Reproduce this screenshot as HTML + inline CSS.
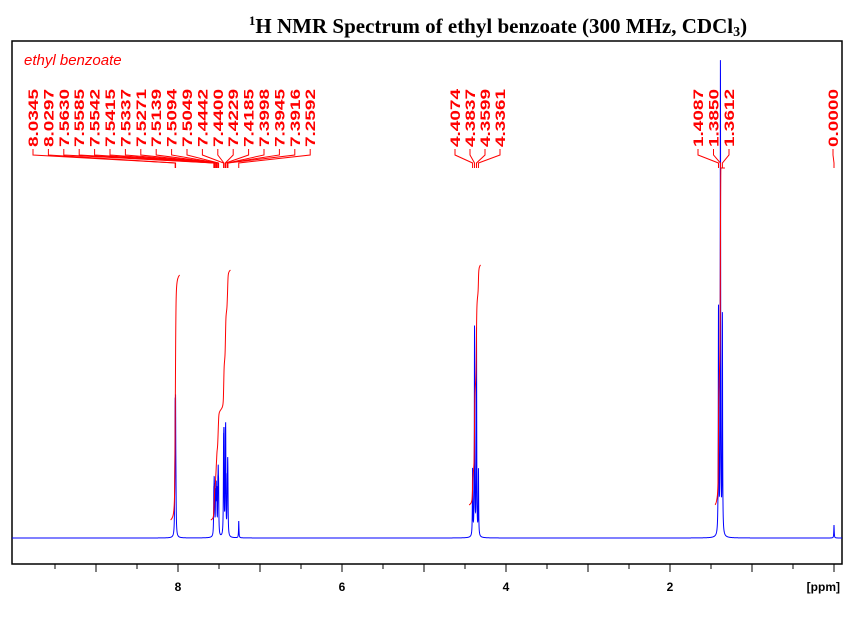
<!DOCTYPE html>
<html><head><meta charset="utf-8">
<style>
html,body{margin:0;padding:0;background:#fff;width:856px;height:620px;overflow:hidden}
svg{display:block}
</style></head>
<body>
<svg id="chart" width="856" height="620" xmlns="http://www.w3.org/2000/svg">
<text x="498" y="33" text-anchor="middle" font-family="Liberation Serif, serif" font-weight="bold" font-size="21" fill="#000"><tspan font-size="13" dy="-8">1</tspan><tspan dy="8">H NMR Spectrum of ethyl benzoate (300 MHz, CDCl</tspan><tspan font-size="14" dy="3">3</tspan><tspan dy="-3">)</tspan></text>
<rect x="12" y="41" width="830" height="523" fill="none" stroke="#000" stroke-width="1.5"/>
<text x="24" y="65" font-family="Liberation Sans, sans-serif" font-style="italic" font-size="15" fill="#f00">ethyl benzoate</text>
<defs><clipPath id="clip"><rect x="12" y="42" width="830" height="522"/></clipPath></defs>
<g id="axis"></g>
<g id="spec" clip-path="url(#clip)"></g>
<g id="integ"></g>
<g id="labels"></g>
</svg>
<script>
// ---- data ----
const peakPpm = [8.0393,8.0345,8.0297,8.0249,7.5630,7.5585,7.5542,7.5415,7.5337,7.5271,7.5139,7.5094,7.5049,7.4442,7.4400,7.4229,7.4185,7.3998,7.3945,7.3916,7.2592,4.4074,4.3837,4.3599,4.3361,1.4087,1.3850,1.3612,0.0000];
const peakHeight = [6,21,22,6,7,8,7,8,9,8,8,10,8,15,17,16,18,9,10,8,3.5,14,44,44,14,48,100,46,2.7];
const peakLabels = ["8.0345","8.0297","7.5630","7.5585","7.5542","7.5415","7.5337","7.5271","7.5139","7.5094","7.5049","7.4442","7.4400","7.4229","7.4185","7.3998","7.3945","7.3916","7.2592","4.4074","4.3837","4.3599","4.3361","1.4087","1.3850","1.3612","0.0000"];
const labelGroups = [[0,19],[19,23],[23,26],[26,27]];
const integralRegions = [[8.09,7.98],[7.60,7.36],[4.45,4.31],[1.45,1.33]];
const integralRise = [1.0,1.02,0.98,2.0];
const tickValues = [8,6,4,2];
// ---- scales ----
const X = p => 834 - 82*p;
const BASE = 538, YS = 4.73;
const Y = v => BASE - v*YS;
const ns = "http://www.w3.org/2000/svg";
function mk(tag, attrs, parent){const e=document.createElementNS(ns,tag);for(const k in attrs)e.setAttribute(k,attrs[k]);parent.appendChild(e);return e;}
// axis
const ax = document.getElementById('axis');
for(let t=0;t<=9.5;t+=0.5){
  const major = Math.abs(t-Math.round(t))<1e-6;
  const l = mk('line',{x1:X(t),x2:X(t),y1:564,y2:major?572:569,stroke:'#000','stroke-width':1},ax);
  
  
}
tickValues.forEach(v=>{
  const t = mk('text',{x:X(v),y:591,'text-anchor':'middle','font-family':'Liberation Sans, sans-serif','font-weight':'bold','font-size':'12',fill:'#000'},ax);
  t.textContent = v;
  
  
});
const unit = mk('text',{x:840,y:591,'text-anchor':'end','font-family':'Liberation Sans, sans-serif','font-weight':'bold','font-size':'12',fill:'#000'},ax);
unit.textContent='[ppm]';


// spectrum
const hw = 0.003;
function spec(p){let s=0;for(let i=0;i<peakPpm.length;i++){const d=(p-peakPpm[i])/hw;s+=peakHeight[i]/(1+d*d);}return s;}
let d='';
for(let p=10.05;p>=-0.1;p-=0.0008){const v=Math.min(spec(p),102);d+=(d?'L':'M')+X(p).toFixed(2)+','+Y(v).toFixed(2);}
const sp = mk('path',{d:d,fill:'none',stroke:'#00f','stroke-width':1},document.getElementById('spec'));


// integrals
const ig = document.getElementById('integ');
integralRegions.forEach((r,k)=>{
  const pts=[];let c=0;
  for(let p=r[0];p>=r[1];p-=0.0008){c+=spec(p);pts.push([p,c]);}
  const tot=c, start = k<2?520:505;
  let dd='';
  pts.forEach(q=>{const y=Math.max(168,start-(q[1]/tot)*245*integralRise[k]);dd+=(dd?'L':'M')+X(q[0]).toFixed(2)+','+y.toFixed(2);});
  const e = mk('path',{d:dd,fill:'none',stroke:'#f00','stroke-width':1},ig);
  
  
});
// labels
const lb = document.getElementById('labels');
const labelPpm = peakLabels.map(s=>parseFloat(s));
labelGroups.forEach(g=>{
  const n=g[1]-g[0];
  const xs=[];
  if(g[0]===0){for(let i=0;i<n;i++)xs.push(33+i*15.4);}
  else if(g[0]===19){for(let i=0;i<n;i++)xs.push(455+i*15);}
  else if(g[0]===23){for(let i=0;i<n;i++)xs.push(698+i*15.5);}
  else xs.push(833);
  for(let i=0;i<n;i++){
    const idx=g[0]+i, lx=xs[i], px=X(labelPpm[idx]);
    const t = mk('text',{x:0,y:0,transform:`translate(${lx+5},147) rotate(-90)`,'font-family':'Liberation Sans, sans-serif','font-weight':'bold','font-size':'14',fill:'#f00',textLength:'58',lengthAdjust:'spacingAndGlyphs'},lb);
    t.textContent = peakLabels[idx];
    
    
    const l = mk('polyline',{points:`${lx},149 ${lx},155 ${px},163 ${px},168`,fill:'none',stroke:'#f00','stroke-width':1},lb);
    
    
  }
});
</script>
</body></html>
